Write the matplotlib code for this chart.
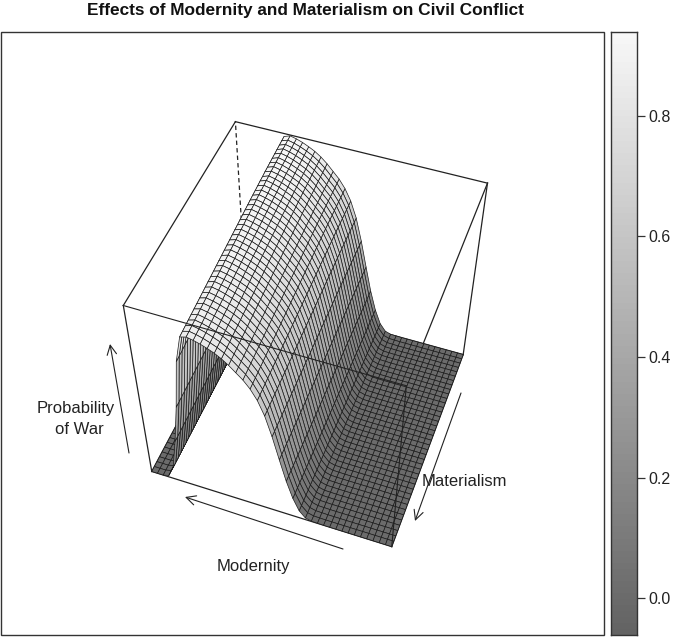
import numpy as np
import matplotlib
matplotlib.use('Agg')
from matplotlib import pyplot as plt
from matplotlib.colors import LinearSegmentedColormap
from matplotlib.patches import Rectangle

plt.rcParams['font.family'] = ['Liberation Sans', 'DejaVu Sans']

TITLE = 'Effects of Modernity and Materialism on Civil Conflict'
KEY_TICKS = [0.0, 0.2, 0.4, 0.6, 0.8]
KEY_RANGE = (-0.061, 0.939)

# probability of war read along the modernity axis (41 grid lines)
war_by_modernity = [
    0.000, 0.000, 0.000, 0.000, 0.000, 0.000, 0.000, 0.000, 0.000, 0.000,
    0.000, 0.000, 0.001, 0.002, 0.012, 0.050, 0.125, 0.230, 0.360, 0.495,
    0.610, 0.690, 0.745, 0.785, 0.815, 0.845, 0.870, 0.890, 0.905, 0.918,
    0.928, 0.935, 0.925, 0.780, 0.500, 0.270, 0.080, 0.010, 0.000, 0.000,
    0.000,
]
# how far the ridge drops going towards high materialism
materialism_factor = [
    1.000, 0.999, 0.998, 0.997, 0.996, 0.995, 0.994, 0.993, 0.992, 0.990,
    0.989, 0.987, 0.985, 0.984, 0.982, 0.980, 0.978, 0.976, 0.974, 0.972,
    0.970, 0.968, 0.966, 0.964, 0.962, 0.960, 0.958, 0.956, 0.954, 0.952,
    0.950, 0.948, 0.946, 0.944, 0.942, 0.940, 0.938, 0.936, 0.934, 0.932,
    0.930,
]

W, H = 674, 637
LINE = '#222222'


def px_rect(left, top, width, height):
    """Axes rectangle in figure fractions from image pixels."""
    return [left / W, 1 - (top + height) / H, width / W, height / H]


cmap = LinearSegmentedColormap.from_list('key', ['#626262', '#f8f8f8'])
norm = plt.Normalize(*KEY_RANGE)

fig = plt.figure(figsize=(W / 100, H / 100), dpi=100)

# pixel overlay for the frame, arrows and labels
over = fig.add_axes([0, 0, 1, 1])
over.set_xlim(0, W)
over.set_ylim(H, 0)
over.axis('off')
over.add_patch(Rectangle((0.5, 32), 603.5, 603, fill=False, ec='#333333', lw=1))
over.text(305, 10, TITLE, ha='center', va='center', fontsize=12.4, fontweight='bold', color='#111111')
over.text(75.5, 408, 'Probability', ha='center', va='center', fontsize=12, color='#222222')
over.text(79, 429, 'of War', ha='center', va='center', fontsize=12, color='#222222')
over.text(464.5, 481, 'Materialism', ha='center', va='center', fontsize=12, color='#222222')
over.text(253.5, 566, 'Modernity', ha='center', va='center', fontsize=12, color='#222222')
for tail, head in [((129, 453), (110, 344)), ((461, 393), (415, 521)), ((343, 549), (185, 497))]:
    over.annotate('', xy=head, xytext=tail,
                  arrowprops=dict(arrowstyle='->', color=LINE, lw=0.8, mutation_scale=17,
                                  shrinkA=0, shrinkB=0))

# wireframe
ax = fig.add_axes(px_rect(5, 41, 600, 600), projection='3d', computed_zorder=False)
ax.patch.set_alpha(0)
ax.set_axis_off()
ax.set_box_aspect((1, 1, 1), zoom=0.733)
ax.set_proj_type('persp', focal_length=0.397)
ax.view_init(elev=50, azim=110)

modernity = np.arange(len(war_by_modernity)) / (len(war_by_modernity) - 1)
materialism = np.arange(len(materialism_factor)) / (len(materialism_factor) - 1)
zmax = KEY_RANGE[1]
ax.set_xlim(0, 1)
ax.set_ylim(0, 1)
ax.set_zlim(0, zmax)

X, Y = np.meshgrid(modernity, materialism)
Z = np.outer(materialism_factor, war_by_modernity)
cell = (Z[:-1, :-1] + Z[1:, :-1] + Z[:-1, 1:] + Z[1:, 1:]) / 4
ax.plot_surface(X, Y, Z, rstride=1, cstride=1, facecolors=cmap(norm(cell)), shade=False,
                edgecolor='#1a1a1a', linewidth=0.5, zorder=2)

# box edges behind the surface
edges_back = [
    ((0, 1), (1, 1), (0, 0)), ((1, 1), (1, 0), (0, 0)), ((1, 0), (0, 0), (0, 0)), ((0, 0), (0, 1), (0, 0)),
    ((1, 1), (1, 1), (0, zmax)), ((0, 0), (0, 0), (0, zmax)),
    ((1, 1), (1, 0), (zmax, zmax)), ((1, 0), (0, 0), (zmax, zmax)), ((0, 0), (0, 1), (zmax, zmax)),
]
for ex, ey, ez in edges_back:
    ax.plot(ex, ey, ez, color=LINE, lw=0.9, zorder=1)
ax.plot((1, 1), (0, 0), (0, zmax), color=LINE, lw=0.9, ls=(0, (3.5, 2.5)), zorder=1)
# front edges stay on top of it
ax.plot((0, 0), (1, 1), (0, zmax), color=LINE, lw=0.8, zorder=3)
ax.plot((0, 1), (1, 1), (zmax, zmax), color=LINE, lw=0.8, zorder=3)

# colour key
key = fig.add_axes(px_rect(611, 32, 26, 603))
levels = np.linspace(KEY_RANGE[0], KEY_RANGE[1], 101)
key.pcolormesh([0, 1], levels, ((levels[:-1] + levels[1:]) / 2).reshape(-1, 1), cmap=cmap, norm=norm)
key.set_xticks([])
key.yaxis.tick_right()
key.set_yticks(KEY_TICKS)
key.set_yticklabels(['%.1f' % t for t in KEY_TICKS])
key.tick_params(axis='y', length=5.5, width=0.9, color='#333333', labelsize=11.5, pad=3, labelcolor='#222222')
for s in key.spines.values():
    s.set_color('#333333')
    s.set_linewidth(1)

fig.savefig('out.png', dpi=100)
